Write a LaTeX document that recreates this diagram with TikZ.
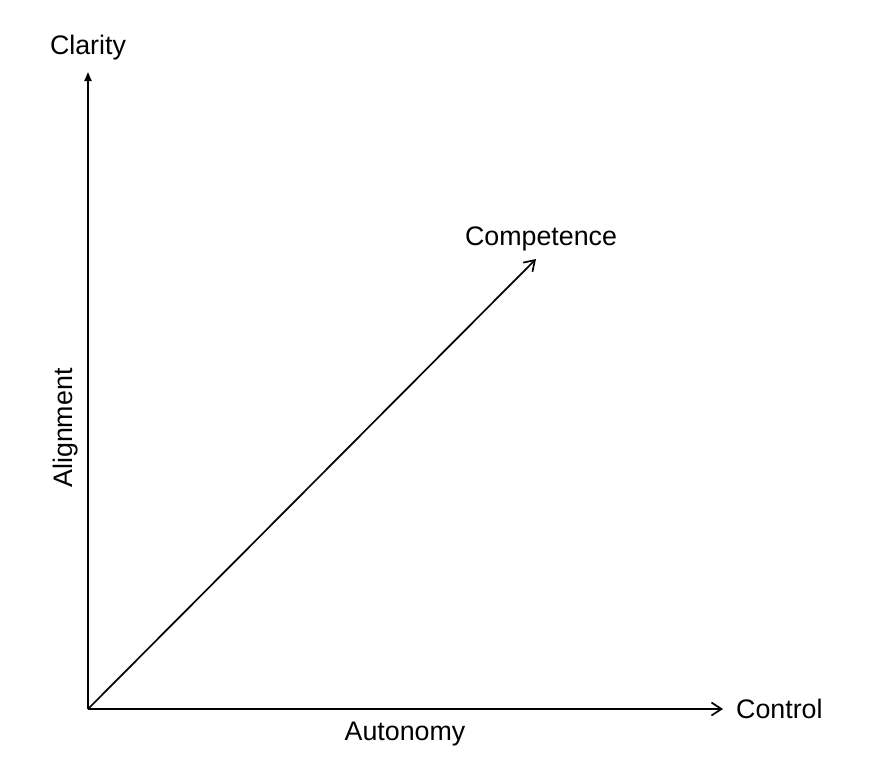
\documentclass[tikz,border=0pt]{standalone}
\usepackage{fontspec}
\setmainfont{Liberation Sans}
\usetikzlibrary{arrows.meta}
\begin{document}
\begin{tikzpicture}[x=1pt,y=-1pt,
  lbl/.style={inner sep=0pt,font=\fontsize{26.8}{30}\selectfont},
  axis/.style={line width=1.7pt},
  barb/.style={-{Straight Barb[length=10pt,width=13pt,line width=1.7pt]}},
  tri/.style={-{Triangle[length=9pt,width=7pt]}}]
\useasboundingbox (0,0) rectangle (877,766);
\coordinate (o) at (88,709);
\coordinate (ytip) at (88,72);
\coordinate (xtip) at (723,709);
\coordinate (dtip) at (536,259);
\draw[axis,tri] (o) -- (ytip);
\draw[axis,barb] (o) -- (xtip);
\draw[axis,barb] (o) -- (dtip);
\node[lbl] (clarity) at (88,48) {Clarity};
\node[lbl,anchor=west] (control) at (736,709) {Control};
\node[lbl] (autonomy) at (405,734) {Autonomy};
\node[lbl,rotate=90] (alignment) at (66,428) {Alignment};
\node[lbl] (competence) at (541,239) {Competence};
\end{tikzpicture}
\end{document}
